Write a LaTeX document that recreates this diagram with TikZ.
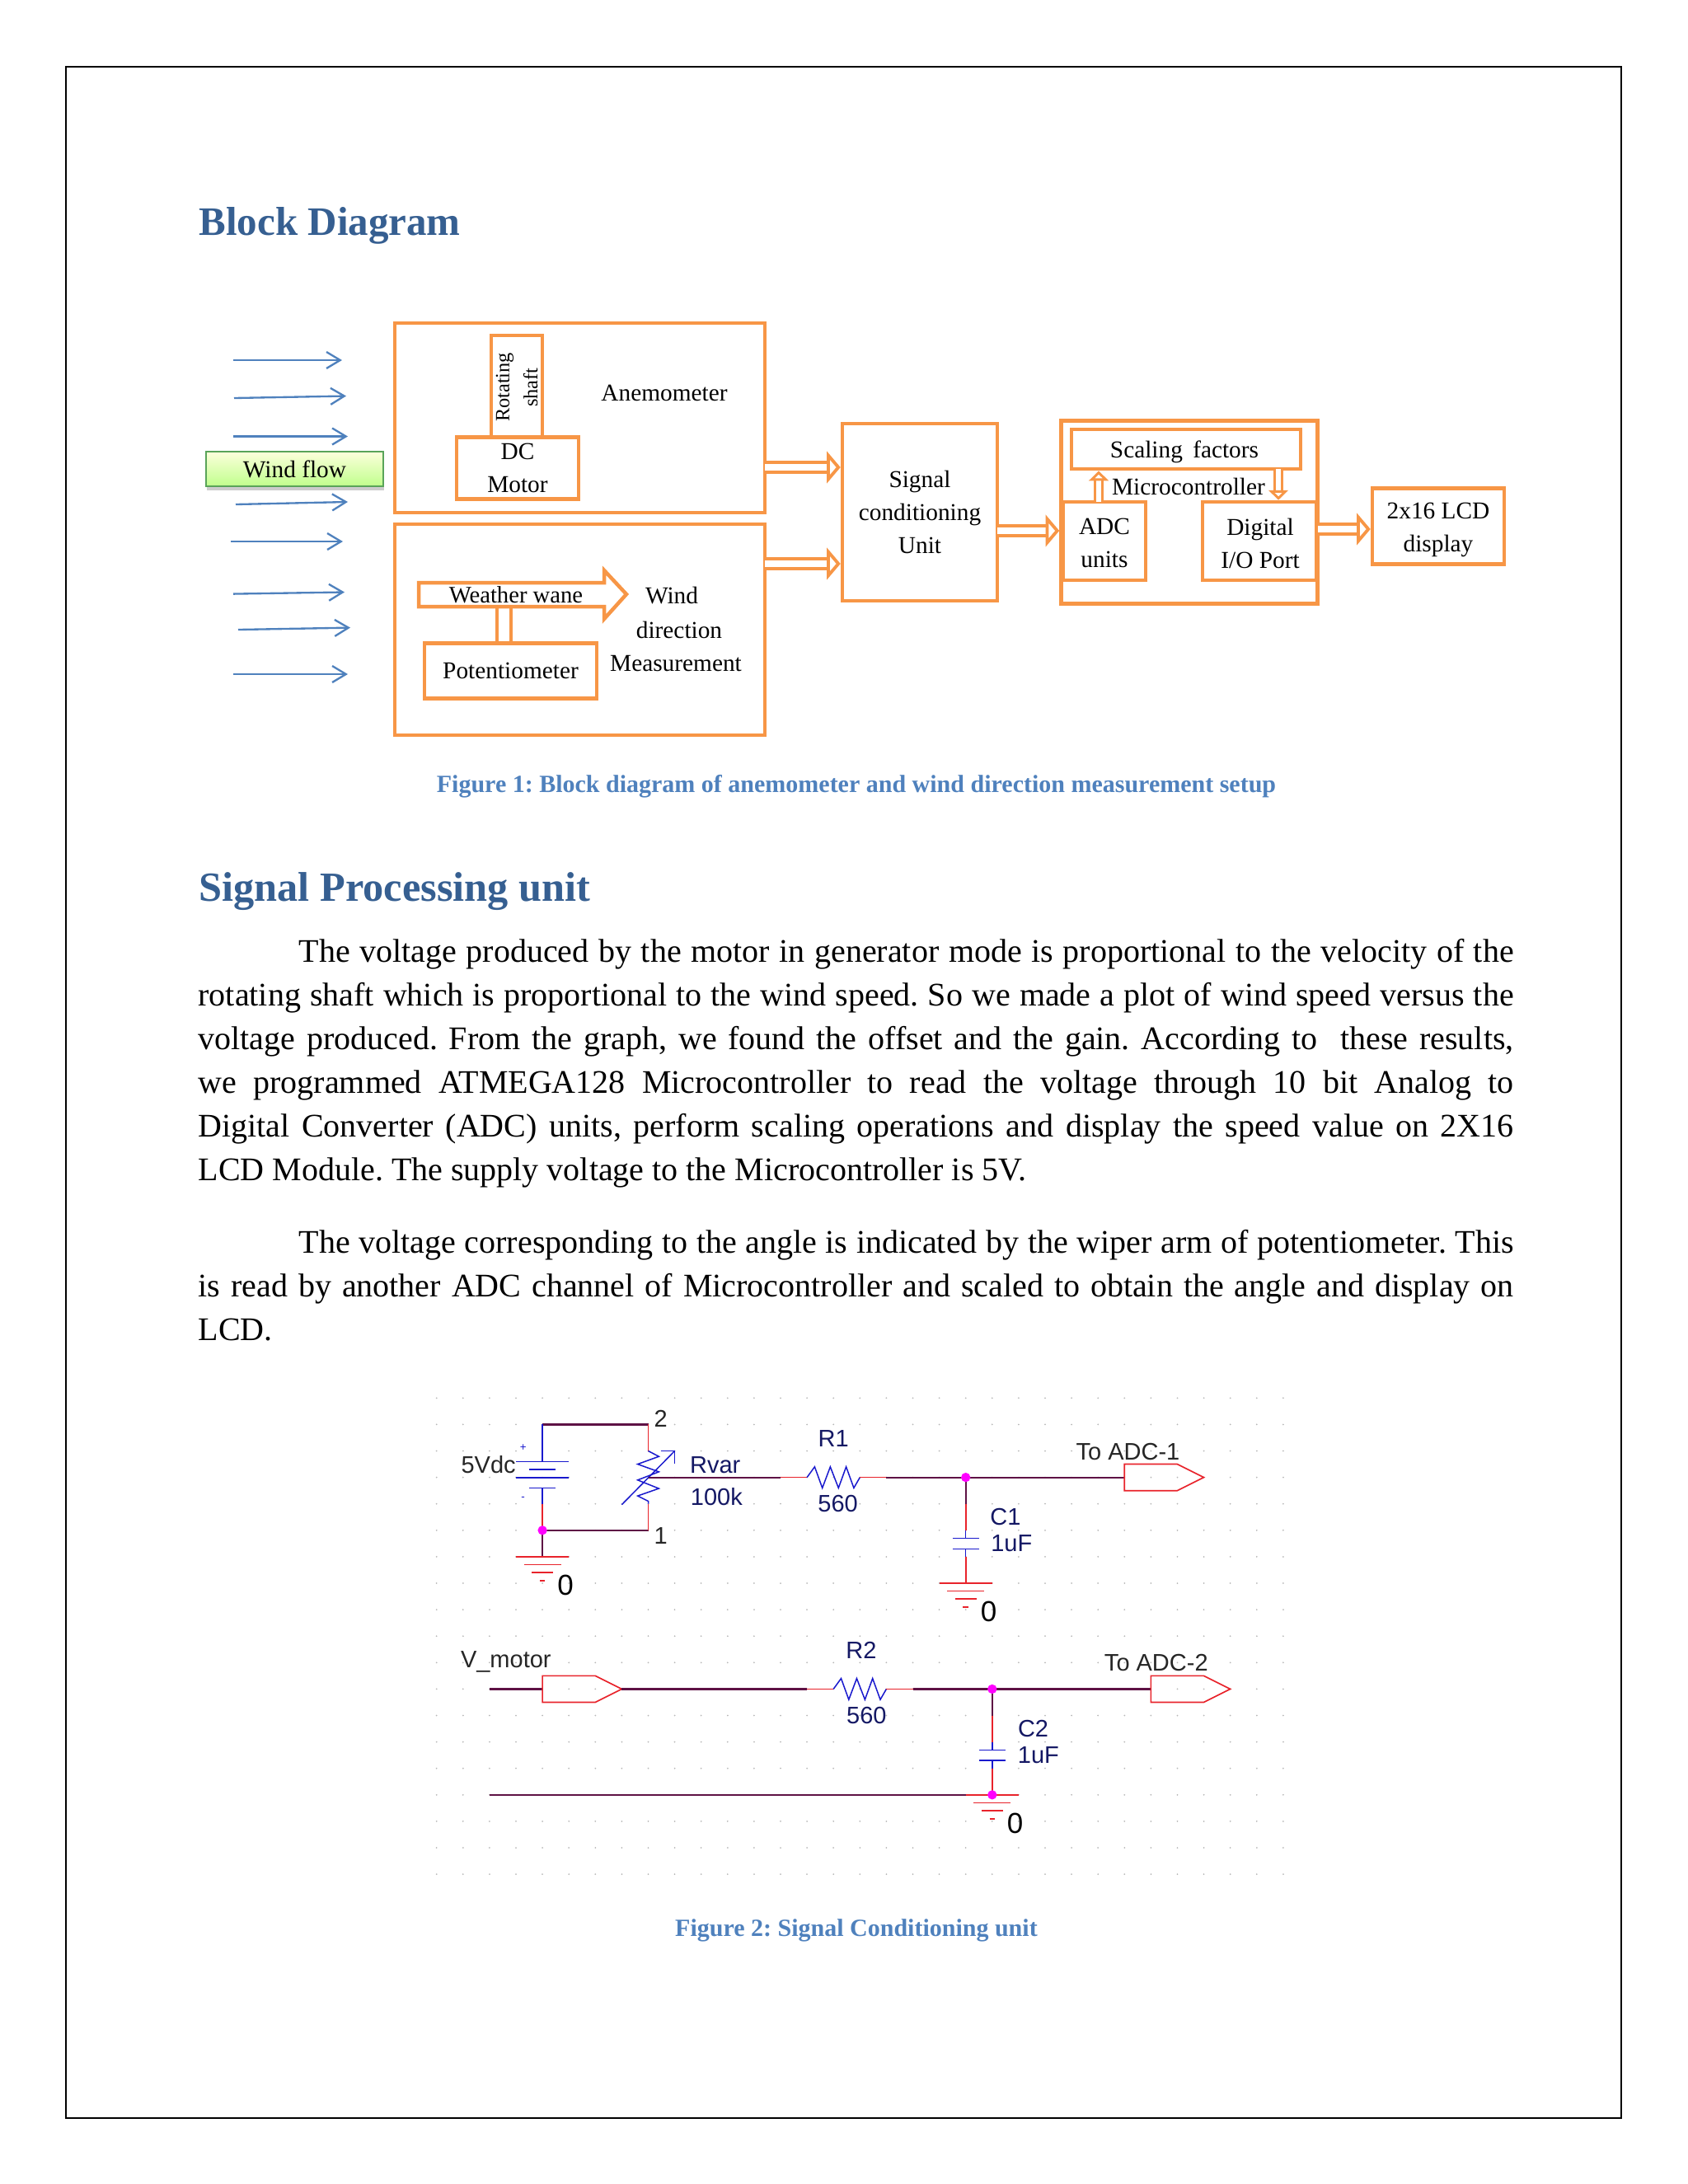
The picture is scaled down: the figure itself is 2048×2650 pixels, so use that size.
\documentclass[tikz,border=0pt]{standalone}
\usepackage{fontspec}
\setmainfont{Liberation Serif}
\newfontfamily\circfont{Liberation Sans}
\definecolor{sbdorange}{RGB}{247,150,70}
\definecolor{sbdblue}{RGB}{79,129,189}
\definecolor{headblue}{RGB}{54,95,145}
\definecolor{capblue}{RGB}{79,129,189}
\definecolor{cirred}{RGB}{232,35,43}
\definecolor{cirblue}{RGB}{25,25,205}
\definecolor{cirdark}{RGB}{94,18,69}
\definecolor{cirnavy}{RGB}{20,24,100}
\definecolor{cirpink}{RGB}{255,0,255}
\usetikzlibrary{arrows.meta,positioning,calc,shadows}
\tikzset{
  blockbox/.style 2 args={draw=sbdorange,line width=1.35pt,inner sep=0pt,align=center,
        minimum width=#1*0.3pt,minimum height=#2*0.3pt,
        font=\fontsize{8.8}{12}\selectfont},
  blocktxt/.style={inner sep=0pt,align=center,font=\fontsize{8.8}{12}\selectfont},
  windarrow/.style={draw=sbdblue,line width=0.7pt,-{Straight Barb[length=5pt,width=6pt]}},
  bigarrow/.style={draw=sbdorange,line width=1.15pt,double=white,double distance=2.4pt,
        -{Triangle[open,length=5pt,width=11.5pt,line width=1.15pt,fill=white]}},
  smallarrow/.style={draw=sbdorange,line width=0.9pt,double=white,double distance=1.6pt,
        -{Triangle[open,length=3.6pt,width=7pt,line width=0.9pt,fill=white]}},
  bodytxt/.style={inner sep=0pt,text width=478.8pt,align=justify,
        font=\fontsize{12}{15.87}\selectfont\frenchspacing},
  headtxt/.style={inner sep=0pt,text=headblue,font=\fontsize{14.7}{17}\selectfont\bfseries},
  captxt/.style={inner sep=0pt,text=capblue,font=\fontsize{9}{12}\selectfont\bfseries\frenchspacing},
  redwire/.style={draw=cirred,line width=0.5pt},
  bluewire/.style={draw=cirblue,line width=0.45pt},
  darkwire/.style={draw=cirdark,line width=0.65pt},
  junct/.style={circle,fill=cirpink,inner sep=0pt,minimum size=3.4pt},
  cirtxt/.style={inner sep=0pt,text=cirnavy,font=\circfont\fontsize{8.7}{10}\selectfont},
  cirblk/.style={inner sep=0pt,text=black!85,font=\circfont\fontsize{8.7}{10}\selectfont},
  gndtxt/.style={inner sep=0pt,text=black,font=\circfont\fontsize{10.5}{12}\selectfont},
}
\begin{document}
\begin{tikzpicture}[x=0.3pt,y=-0.3pt]
  \useasboundingbox (0,0) rectangle (2048,2650);
  %% Page frame
  \draw[black,line width=0.55pt] (80,81) rectangle (1967,2570);

  %% Headings
  \node[headtxt,anchor=west] (headblock) at (241,274) {Block Diagram};
  \node[headtxt,anchor=west,font=\fontsize{15.1}{17}\selectfont\bfseries] (headsignal) at (241,1082) {Signal Processing unit};

  %% Wind arrows
  \foreach \n/\xa/\ya/\xb/\yb in {1/283/437/415/437,2/284/483/420/480.5,3/283/529.5/422/529.5,
        4/286/612/422/609,5/280/657/416/657,6/283/720.6/418/718.5,7/289/764/425/761.6,8/283/818/422/818}{
    \coordinate (wsrc\n) at (\xa,\ya);
    \coordinate (wdst\n) at (\xb,\yb);
    \draw[windarrow] (wsrc\n) -- (wdst\n);
  }
  \node[draw=green!45!black!65,line width=0.7pt,top color=green!8!yellow!14,bottom color=green!55!yellow!45,
        drop shadow={shadow xshift=0.4pt,shadow yshift=-1.6pt,opacity=0.4},
        blocktxt,minimum width=215*0.3pt,minimum height=42*0.3pt] (windflow) at (357.5,569) {Wind flow};

  %% Anemometer block
  \node[blockbox={449}{230}] (anemo) at (703.5,507) {};
  \node[blockbox={62}{124}] (shaft) at (627,469) {};
  \node[blockbox={148}{75}] (motor) at (628,568) {DC\\[0pt]Motor};
  \node[blocktxt,rotate=90,font=\fontsize{7.3}{10.3}\selectfont] (shafttxt) at (627,470) {Rotating\\shaft};
  \node[blocktxt] (anemotxt) at (806,477) {Anemometer};

  %% Wind direction block
  \node[blockbox={449}{256}] (wdir) at (703.5,764) {};
  \node[blockbox={209}{67}] (pot) at (619.5,814) {Potentiometer};
  \draw[draw=sbdorange,line width=1.35pt] (508,707) -- (733,707) -- (733,692) -- (760,721)
        -- (733,751) -- (733,736) -- (508,736) -- cycle;
  \node[blocktxt,font=\fontsize{8.6}{12}\selectfont] (vanetxt) at (626,722) {Weather wane};
  \coordinate (stema) at (603,737);
  \coordinate (stemb) at (620,737);
  \draw[draw=sbdorange,line width=1.1pt] (stema) -- (stema |- pot.north);
  \draw[draw=sbdorange,line width=1.1pt] (stemb) -- (stemb |- pot.north);
  \node[blocktxt] (windtxt) at (815,723) {Wind};
  \node[blocktxt] (dirtxt) at (824,764) {direction};
  \node[blocktxt] (meastxt) at (820,805) {Measurement};

  %% Signal conditioning and output blocks
  \node[blockbox={188}{215}] (signal) at (1116,621.5) {Signal\\conditioning\\Unit};
  \node[blockbox={311}{222}] (micro) at (1443,621.5) {};
  \node[blockbox={278}{48}] (scaling) at (1439,545) {};
  \node[blockbox={100}{95}] (adc) at (1340,656.5) {};
  \node[blockbox={138}{95}] (digital) at (1528,656.5) {};
  \node[blockbox={160}{92}] (lcd) at (1745,638.5) {};
  \node[blocktxt] (scaletxt) at (1437,548) {Scaling\hspace{1.5pt} factors};
  \node[blocktxt] (adctxt) at (1340,659) {ADC\\units};
  \node[blocktxt] (digtxt) at (1529,659) {Digital\\I/O Port};
  \node[blocktxt] (lcdtxt) at (1745,642.5) {2x16 LCD\\display};
  \node[blocktxt] (microtxt) at (1442,590) {Microcontroller};

  %% Double arrows
  \coordinate (upin) at (928,567);
  \coordinate (lowin) at (928,684);
  \coordinate (sigout) at (1210,644);
  \coordinate (micout) at (1599,642);
  \coordinate (adcup) at (1333,609);
  \coordinate (digdn) at (1551,569);
  \draw[bigarrow] (upin) -- (upin -| signal.west);
  \draw[bigarrow] (lowin) -- (lowin -| signal.west);
  \draw[bigarrow] (sigout) -- (sigout -| micro.west);
  \draw[bigarrow] (micout) -- (micout -| lcd.west);
  \draw[smallarrow] (adcup) -- (adcup |- scaling.south);
  \draw[smallarrow] (digdn) -- (digdn |- digital.north);

  %% Captions
  \node[captxt] (capone) at (1039,954) {Figure 1: Block diagram of anemometer and wind direction measurement setup};
  \node[captxt] (captwo) at (1039,2342) {Figure 2: Signal Conditioning unit};

  %% Body text
  \node[bodytxt,anchor=north west] (parone) at (240,1139) {\hspace*{36.6pt}The voltage produced by the motor in generator mode is proportional to the velocity of the\linebreak
    rotating shaft which is proportional to the wind speed. So we made a plot of wind speed versus the\linebreak
    voltage produced. From the graph, we found the offset and the gain. According to\ \ these results,\linebreak
    we programmed ATMEGA128 Microcontroller to read the voltage through 10 bit Analog to\linebreak
    Digital Converter (ADC) units, perform scaling operations and display the speed value on 2X16\linebreak
    LCD Module. The supply voltage to the Microcontroller is 5V.};
  \node[bodytxt,anchor=north west] (partwo) at (240,1492) {\hspace*{36.6pt}The voltage corresponding to the angle is indicated by the wiper arm of potentiometer. This\linebreak
    is read by another ADC channel of Microcontroller and scaled to obtain the angle and display on\linebreak
    LCD.};

  %% Schematic on its own grid
  \begin{scope}[shift={(529.7,1696.3)},x=9.63pt,y=-9.63pt]
    \foreach \i in {0,...,32}{
      \foreach \j in {0,...,18}{
        \fill[black!28] (\i,\j) circle (0.3pt);
      }
    }
    \coordinate (jbat) at (4,5);
    \coordinate (jcone) at (20,3);
    \coordinate (jctwo) at (21,11);
    \coordinate (jgnd) at (21,15);

    %% Battery and pot loop
    \draw[darkwire] (4,1) -- (8,1);
    \draw[bluewire] (4,1) -- (4,2.4);
    \draw[bluewire] (3,2.4) -- (5,2.4);
    \draw[bluewire] (3.5,2.7) -- (4.5,2.7);
    \draw[bluewire,line width=0.65pt] (3,3) -- (5,3);
    \draw[bluewire] (3.5,3.4) -- (4.5,3.4);
    \draw[bluewire] (4,3.4) -- (4,4);
    \draw[redwire] (4,4) -- (jbat);
    \draw[darkwire] (jbat) -- (8,5);
    \draw[darkwire] (jbat) -- (4,6);
    \draw[redwire] (8,1) -- (8,2);
    \draw[redwire] (8,4) -- (8,5);
    \draw[bluewire] (8,2) -- (8.4,2.21) -- (7.6,2.5) -- (8.4,2.79) -- (7.6,3.1) -- (8.4,3.42) -- (7.6,3.7) -- (8,3.9) -- (8,4);
    \draw[bluewire] (7,4.03) -- (9,2);
    \draw[bluewire] (8.47,2) -- (9,2) -- (9,2.47);
    \node[cirblk,font=\circfont\fontsize{4}{4}\selectfont,text=cirblue] (plustxt) at (3.27,1.89) {+};
    \node[cirblk,font=\circfont\fontsize{4}{4}\selectfont,text=cirblue] (minustxt) at (3.27,3.8) {-};
    \node[cirblk] (batlab) at (1.96,2.52) {5Vdc};
    \node[cirblk] (pintwo) at (8.47,0.77) {2};
    \node[cirblk] (pinone) at (8.47,5.22) {1};
    \node[cirtxt] (rvarlab) at (10.53,2.52) {Rvar};
    \node[cirtxt] (rvarval) at (10.58,3.72) {100k};

    %% R1 and C1 branch
    \draw[darkwire] (8,3) -- (13,3);
    \draw[redwire] (13,3) -- (14,3);
    \draw[bluewire] (14,3) -- (14.29,2.6) -- (14.58,3.4) -- (14.88,2.6) -- (15.19,3.4) -- (15.48,2.6) -- (15.77,3.4) -- (16,3);
    \draw[redwire] (16,3) -- (17,3);
    \draw[darkwire] (17,3) -- (jcone) -- (26,3);
    \draw[redwire] (26,2.5) -- (28,2.5) -- (29,3) -- (28,3.5) -- (26,3.5) -- cycle;
    \draw[darkwire] (jcone) -- (20,4);
    \draw[redwire] (20,4) -- (20,5);
    \draw[bluewire] (20,5) -- (20,5.3);
    \draw[bluewire] (19.5,5.3) -- (20.5,5.3);
    \draw[bluewire] (19.5,5.7) -- (20.5,5.7);
    \draw[bluewire] (20,5.7) -- (20,6);
    \draw[redwire] (20,6) -- (20,7);
    \node[cirtxt] (rolab) at (15,1.54) {R1};
    \node[cirtxt] (roval) at (15.17,4) {560};
    \node[cirtxt] (colab) at (21.5,4.5) {C1};
    \node[cirtxt] (coval) at (21.73,5.5) {1uF};
    \node[cirblk] (adconelab) at (26.13,2.02) {To ADC-1};

    %% Motor input, R2 and C2 branch
    \draw[darkwire] (2,11) -- (4,11);
    \draw[redwire] (4,10.5) -- (6,10.5) -- (7,11) -- (6,11.5) -- (4,11.5) -- cycle;
    \draw[darkwire] (7,11) -- (14,11);
    \draw[redwire] (14,11) -- (15,11);
    \draw[bluewire] (15,11) -- (15.29,10.6) -- (15.58,11.4) -- (15.88,10.6) -- (16.19,11.4) -- (16.48,10.6) -- (16.77,11.4) -- (17,11);
    \draw[redwire] (17,11) -- (18,11);
    \draw[darkwire] (18,11) -- (jctwo) -- (27,11);
    \draw[redwire] (27,10.5) -- (29,10.5) -- (30,11) -- (29,11.5) -- (27,11.5) -- cycle;
    \draw[darkwire] (jctwo) -- (21,12);
    \draw[redwire] (21,12) -- (21,13);
    \draw[bluewire] (21,13) -- (21,13.3);
    \draw[bluewire] (20.5,13.3) -- (21.5,13.3);
    \draw[bluewire] (20.5,13.7) -- (21.5,13.7);
    \draw[bluewire] (21,13.7) -- (21,14);
    \draw[redwire] (21,14) -- (jgnd);
    \draw[darkwire] (2,15) -- (20,15);
    \node[cirblk] (vmotorlab) at (2.62,9.96) {V\_motor};
    \node[cirtxt] (rtwolab) at (16.05,9.53) {R2};
    \node[cirtxt] (rtwoval) at (16.25,12) {560};
    \node[cirtxt] (ctwolab) at (22.55,12.5) {C2};
    \node[cirtxt] (ctwoval) at (22.75,13.5) {1uF};
    \node[cirblk] (adctwolab) at (27.2,10) {To ADC-2};

    %% Ground symbols
    \foreach \gx/\gy/\gn in {4/6/a,20/7/b,21/15/c}{
      \draw[redwire] (\gx-1,\gy) -- (\gx+1,\gy);
      \draw[redwire] (\gx-0.7,\gy+0.3) -- (\gx+0.7,\gy+0.3);
      \draw[redwire] (\gx-0.4,\gy+0.6) -- (\gx+0.4,\gy+0.6);
      \draw[redwire] (\gx-0.1,\gy+0.9) -- (\gx+0.1,\gy+0.9);
      \node[gndtxt] (gnd\gn) at (\gx+0.87,\gy+1.08) {0};
    }

    %% Junction dots
    \node[junct] (dotbat) at (jbat) {};
    \node[junct] (dotcone) at (jcone) {};
    \node[junct] (dotctwo) at (jctwo) {};
    \node[junct] (dotgnd) at (jgnd) {};
  \end{scope}
\end{tikzpicture}
\end{document}
